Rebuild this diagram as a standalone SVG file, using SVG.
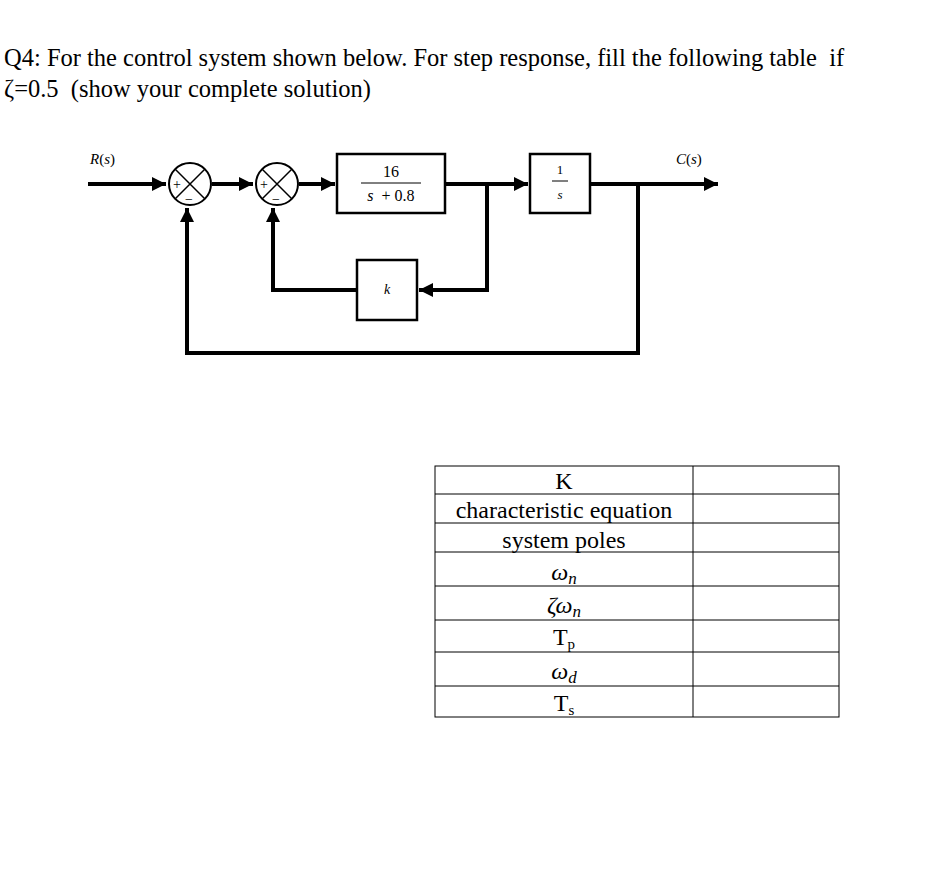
<svg xmlns="http://www.w3.org/2000/svg" width="939" height="879" viewBox="0 0 939 879">
<style>
.t{font-family:'Liberation Serif','Times New Roman','DejaVu Serif',serif;fill:#000}
.ln{stroke:#000;stroke-width:4;fill:none}
.bx{stroke:#000;stroke-width:2.5;fill:#fff}
.cl{stroke:#000;stroke-width:2;fill:#fff}
.tb{stroke:#000;stroke-width:1;fill:none}
</style>
<defs><marker id="a" viewBox="0 0 10 10" refX="10" refY="5" markerWidth="4.5" markerHeight="3.5" orient="auto" markerUnits="strokeWidth"><path d="M0,0 L10,5 L0,10z" fill="#000"/></marker></defs>
<rect width="939" height="879" fill="#fff"/>
<text class="t" x="4" y="66" font-size="24.5" xml:space="preserve">Q4: For the control system shown below. For step response, fill the following table  if</text>
<text class="t" x="4" y="97" font-size="24.5" xml:space="preserve">ζ=0.5  (show your complete solution)</text>
<g id="connectors">
<path class="ln" d="M88,184 H166" marker-end="url(#a)"/>
<path class="ln" d="M212,184 H253" marker-end="url(#a)"/>
<path class="ln" d="M299,184 H335" marker-end="url(#a)"/>
<path class="ln" d="M445,184 H528" marker-end="url(#a)"/>
<path class="ln" d="M590,184 H718" marker-end="url(#a)"/>
<path class="ln" d="M487,184 V290 H419" marker-end="url(#a)"/>
<path class="ln" d="M357,290 H273 V208" marker-end="url(#a)"/>
<path class="ln" d="M638,184 V353 H187 V208" marker-end="url(#a)"/>
</g>
<g id="sum1"><circle class="cl" cx="190" cy="184" r="21"/><path d="M175,169 L205,199 M205,169 L175,199" stroke="#000" stroke-width="1.5"/><text class="t" x="173" y="189" font-size="14">+</text><text class="t" x="185" y="204" font-size="14">−</text></g>
<g id="sum2"><circle class="cl" cx="277" cy="184" r="21"/><path d="M262,169 L292,199 M292,169 L262,199" stroke="#000" stroke-width="1.5"/><text class="t" x="260" y="189" font-size="14">+</text><text class="t" x="272" y="204" font-size="14">−</text></g>
<g id="g1"><rect class="bx" x="337" y="154" width="108" height="59"/><text class="t" x="391" y="177" font-size="16" text-anchor="middle">16</text><line x1="361" y1="183" x2="421" y2="183" stroke="#000" stroke-width="1"/><text class="t" x="391" y="201" font-size="16" text-anchor="middle" xml:space="preserve"><tspan font-style="italic">s</tspan>  + 0.8</text></g>
<g id="g2"><rect class="bx" x="530" y="154" width="60" height="59"/><text class="t" x="560" y="174" font-size="13" text-anchor="middle">1</text><line x1="552" y1="181" x2="568" y2="181" stroke="#000" stroke-width="1"/><text class="t" x="560" y="199" font-size="13" font-style="italic" text-anchor="middle">s</text></g>
<g id="k"><rect class="bx" x="357" y="260" width="60" height="60"/><text class="t" x="387" y="294" font-size="14" font-style="italic" text-anchor="middle">k</text></g>
<text class="t" x="90" y="164" font-size="15"><tspan font-style="italic">R</tspan>(<tspan font-style="italic">s</tspan>)</text>
<text class="t" x="676" y="164" font-size="15"><tspan font-style="italic">C</tspan>(<tspan font-style="italic">s</tspan>)</text>
<g id="table">
<rect class="tb" x="435" y="466" width="404" height="251"/>
<line class="tb" x1="693" y1="466" x2="693" y2="717"/>
<path class="tb" d="M435,494H839M435,523H839M435,552H839M435,586H839M435,620H839M435,652H839M435,686H839"/>
<g class="t" font-size="24" text-anchor="middle">
<text x="564" y="489">K</text>
<text x="564" y="518">characteristic equation</text>
<text x="564" y="548">system poles</text>
<text x="564" y="580" font-style="italic">ω<tspan font-size="17" dy="4">n</tspan></text>
<text x="564" y="613" font-style="italic">ζω<tspan font-size="17" dy="4">n</tspan></text>
<text x="564" y="645">T<tspan font-size="15" dy="4">p</tspan></text>
<text x="564" y="679" font-style="italic">ω<tspan font-size="17" dy="4">d</tspan></text>
<text x="564" y="711">T<tspan font-size="15" dy="4">s</tspan></text>
</g>
</g>
</svg>
